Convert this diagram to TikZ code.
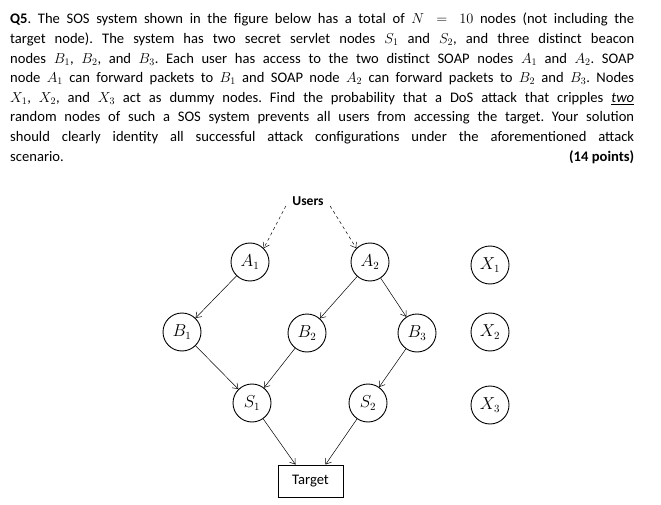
\documentclass[tikz,border=0pt]{standalone}
\usepackage{fontspec}
\setmainfont{Carlito}
\usetikzlibrary{arrows.meta}
\begin{document}
\frenchspacing
\begin{tikzpicture}[x=1pt,y=1pt,
  cnode/.style={circle,draw,line width=0.9pt,minimum size=38pt,inner sep=0pt,font=\fontsize{16}{16}\selectfont},
  arr/.style={-{Straight Barb[length=5pt,width=7pt]},line width=0.5pt},
  darr/.style={arr,dashed}]
\useasboundingbox (0,0) rectangle (661,-505);
\node[anchor=north west,text width=624pt,inner sep=0pt,align=justify,font=\fontsize{14.6}{19.6}\selectfont] (txt) at (10,-13) {%
\textbf{Q5}. The SOS system shown in the figure below has a total of $N = 10$ nodes (not including the\linebreak
target node). The system has two secret servlet nodes $S_1$ and $S_2$, and three distinct beacon\linebreak
nodes $B_1$, $B_2$, and $B_3$. Each user has access to the two distinct SOAP nodes $A_1$ and $A_2$. SOAP\linebreak
node $A_1$ can forward packets to $B_1$ and SOAP node $A_2$ can forward packets to $B_2$ and $B_3$. Nodes\linebreak
$X_1$, $X_2$, and $X_3$ act as dummy nodes. Find the probability that a DoS attack that cripples \underline{\textit{two}}\linebreak
random nodes of such a SOS system prevents all users from accessing the target. Your solution\linebreak
should clearly identity all successful attack configurations under the aforementioned attack\linebreak
scenario.\hfill\textbf{(14 points)}};
\node[font=\bfseries\fontsize{13.6}{14}\selectfont] (U) at (308,-201) {Users};
\node[cnode] (A1) at (250,-262) {$A_1$};
\node[cnode] (A2) at (370,-262) {$A_2$};
\node[cnode] (X1) at (490,-265) {$X_1$};
\node[cnode] (B1) at (182,-332) {$B_1$};
\node[cnode] (B2) at (307,-333) {$B_2$};
\node[cnode] (B3) at (417,-333) {$B_3$};
\node[cnode] (X2) at (490,-332) {$X_2$};
\node[cnode] (S1) at (252,-403) {$S_1$};
\node[cnode] (S2) at (368,-403) {$S_2$};
\node[cnode] (X3) at (490,-405) {$X_3$};
\node[draw,line width=0.8pt,minimum width=65pt,minimum height=32pt,font=\fontsize{14.6}{15}\selectfont] (T) at (310.5,-481) {Target};
\draw[darr] (U.west) ++(-3,-5) coordinate (u1) -- (A1.north east);
\draw[darr] (U.east) ++(3,-5) coordinate (u2) -- (A2.north west);
\draw[arr] (A1) -- (B1);
\draw[arr] (A2) -- (B2);
\draw[arr] (A2) -- (B3);
\draw[arr] (B1) -- (S1);
\draw[arr] (B2) -- (S1);
\draw[arr] (B3) -- (S2);
\draw[arr] (S1) -- ([xshift=-15pt]T.north);
\draw[arr] (S2) -- ([xshift=15pt]T.north);
\end{tikzpicture}
\end{document}
